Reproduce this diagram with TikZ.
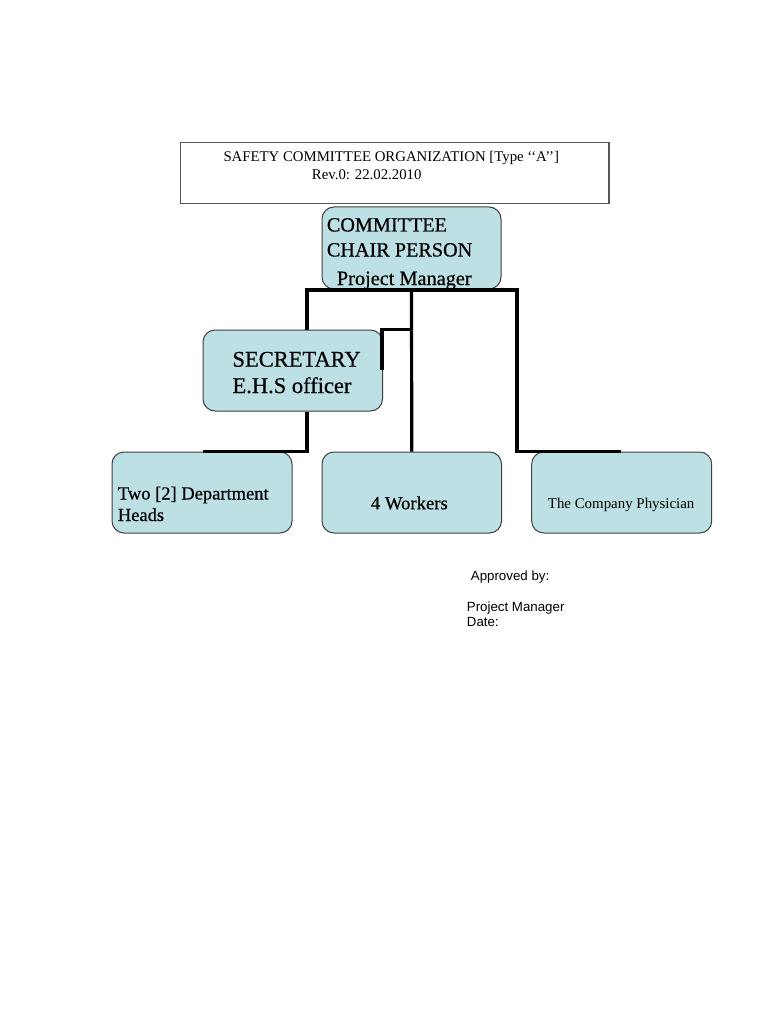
\documentclass[tikz,border=0pt]{standalone}
\usepackage{fontspec}
\setmainfont{Liberation Serif}
\newfontfamily\arialfont{Liberation Sans}
\newfontfamily\heavyserif[FakeBold=0.5]{Liberation Serif}
\definecolor{boxfill}{RGB}{188,224,228}
\definecolor{boxline}{RGB}{64,64,64}
\definecolor{titleline}{RGB}{85,85,85}
\newcommand{\fs}[1]{\fontsize{#1pt}{#1pt}\selectfont}
\begin{document}
\begin{tikzpicture}[x=1pt,y=-1pt,
  orgbox/.style={draw=boxline,line width=1pt,fill=boxfill,rounded corners=12pt,
    rectangle,inner sep=0pt,minimum width=180pt,minimum height=81pt},
  titlebox/.style={draw=titleline,line width=1.3pt,rectangle,inner sep=0pt},
  txt/.style={anchor=base west,inner sep=0pt,text=black},
  conn/.style={line width=3.2pt,black}]
\useasboundingbox (0,0) rectangle (768,1024);
\fill[white] (0,0) rectangle (768,1024);
% title
\node[titlebox,minimum width=428.3pt,minimum height=61pt] (title) at (394.85,172.8) {};
\node[txt] (t1) at (223.3,161.7) {\fs{14.8}SAFETY COMMITTEE ORGANIZATION [Type \textquoteleft\textquoteleft A\textquoteright\textquoteright]};
\node[txt] (t2) at (311.7,180) {\fs{14.8}Rev.0: 22.02.2010};
% boxes
\node[orgbox,minimum width=179pt,minimum height=82pt] (chair) at (411.5,248) {};
\node[orgbox,minimum width=179.5pt] (sec) at (292.75,370.5) {};
\node[orgbox] (heads) at (202,492.5) {};
\node[orgbox,minimum width=179.5pt] (workers) at (411.75,492.5) {};
\node[orgbox] (phys) at (621.7,492.5) {};
% texts
\node[txt] (c1) at (326.7,231.5) {\heavyserif\fs{20.2}COMMITTEE};
\node[txt] (c2) at (326.7,256.5) {\heavyserif\fs{20.2}CHAIR PERSON};
\node[txt] (c3) at (336.7,285) {\heavyserif\fs{20.3}Project Manager};
\node[txt] (s1) at (232.3,366.7) {\heavyserif\fs{22.5}SECRETARY};
\node[txt] (s2) at (232.3,393) {\heavyserif\fs{22.5}E.H.S officer};
\node[txt] (h1) at (117.7,499.5) {\heavyserif\fs{18.5}Two [2] Department};
\node[txt] (h2) at (117.7,521) {\heavyserif\fs{18.5}Heads};
\node[txt] (w1) at (370.7,509.3) {\heavyserif\fs{18.7}4 Workers};
\node[txt] (p1) at (547.7,508.3) {\fs{14.9}The Company Physician};
% approval
\node[txt] (a1) at (470.7,580) {\arialfont\fs{13.3}Approved by:};
\node[txt] (a2) at (466.7,611.7) {\arialfont\fs{13.3}Project Manager};
\node[txt] (a3) at (466.7,626.7) {\arialfont\fs{13.3}Date:};
% connectors
\coordinate (barL) at (307,290);
\coordinate (barR) at (517,290);
\coordinate (physW) at (621,451.5);
\coordinate (headsW) at (203,451.5);
\coordinate (stub) at (382,370);
\draw[conn] (barL |- sec.north) -- (barL) -- (barR) -- (barR |- physW) -- (physW);
\draw[conn] (chair.south) -- (workers.north);
\draw[conn] (sec.north -| workers.north) -| (stub);
\draw[conn] (barL |- sec.south) |- (headsW);
\end{tikzpicture}
\end{document}
